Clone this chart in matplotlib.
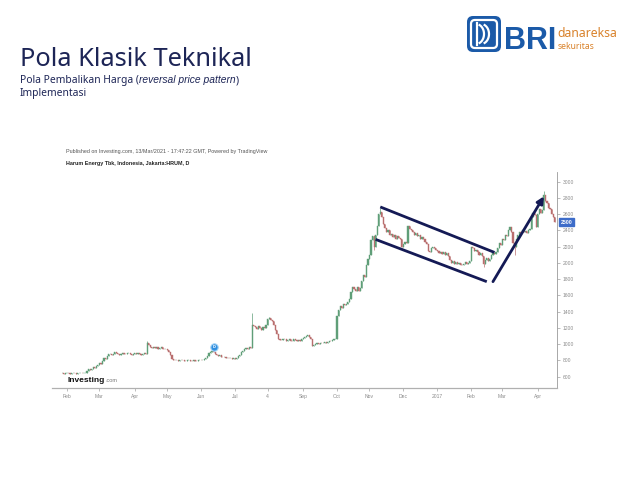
import numpy as np
import pandas as pd
import matplotlib
matplotlib.use("Agg")
import matplotlib.pyplot as plt
from matplotlib.patches import FancyBboxPatch

# daily closes HRUM (one list per month)
jan16 = [640, 632, 645]
feb16 = [650, 640, 635, 645, 650, 640, 630, 640, 645, 650, 640, 645, 650, 665, 690, 680, 700, 725, 710, 735, 750]
mar16 = [770, 755, 790, 825, 815, 860, 875, 880, 870, 885, 900, 890, 880, 870, 885, 890, 880, 875, 890, 895, 880, 870, 885]
apr16 = [890, 880, 895, 885, 870, 880, 890, 885, 1010, 985, 965, 955, 970, 950, 960, 945, 955, 960, 940, 935, 945]
may16 = [930, 910, 870, 820, 810, 800, 805, 795, 800, 810, 800, 795, 790, 800, 805, 795, 790, 800, 795, 790, 800, 805]
jun16 = [800, 810, 820, 835, 860, 890, 910, 915, 900, 880, 870, 860, 865, 845, 840, 845, 830, 835, 825, 830, 820, 825]
jul16 = [820, 830, 850, 870, 900, 920, 940, 950, 945, 960, 955, 1240, 1230, 1210, 1190, 1220, 1200, 1180, 1210, 1195, 1240]
aug16 = [1310, 1320, 1300, 1290, 1240, 1180, 1120, 1070, 1055, 1050, 1070, 1060, 1040, 1050, 1070, 1045, 1035, 1060, 1050, 1040, 1055, 1045, 1060]
sep16 = [1075, 1090, 1100, 1110, 1085, 1070, 975, 990, 1000, 1010, 1005, 1020, 1015, 1010, 1025, 1020, 1030, 1040, 1035, 1050, 1060, 1070]
oct16 = [1350, 1420, 1470, 1450, 1490, 1480, 1500, 1520, 1560, 1640, 1700, 1680, 1660, 1700, 1650, 1690, 1780, 1850, 1830, 1980, 2050]
nov16 = [2100, 2280, 2330, 2200, 2350, 2450, 2600, 2630, 2560, 2480, 2430, 2380, 2400, 2350, 2360, 2320, 2340, 2300, 2330, 2310, 2290, 2200]
dec16 = [2230, 2260, 2250, 2460, 2420, 2400, 2380, 2350, 2370, 2330, 2340, 2300, 2320, 2290, 2260, 2230, 2150, 2130, 2180, 2200, 2190, 2160]
jan17 = [2150, 2120, 2140, 2110, 2130, 2100, 2120, 2080, 2040, 2000, 2020, 1990, 2010, 1990, 2000, 1980, 1970, 1990, 2010, 1985, 2000, 2020]
feb17 = [2200, 2180, 2150, 2160, 2130, 2100, 2120, 2080, 1990, 2040, 2060, 2030, 2050, 2100, 2120, 2110, 2130, 2180, 2250, 2220]
mar17 = [2300, 2280, 2350, 2330, 2400, 2440, 2380, 2250, 2200, 2300, 2350, 2380, 2370, 2400, 2380, 2390, 2370, 2400, 2420, 2560, 2620, 2590, 2440]
apr17 = [2600, 2660, 2620, 2650, 2840, 2760, 2740, 2680, 2660, 2600, 2570, 2500]

# long wicks that stand out
wick_highs = {"2016-04-13": 1045, "2016-07-18": 1390, "2016-08-02": 1340,
              "2016-11-10": 2680, "2017-04-07": 2880}
wick_lows = {"2016-11-04": 2160, "2017-02-13": 1950, "2017-03-13": 2100}

month_labels = ["Feb", "Mar", "Apr", "May", "Jun", "Jul", "4", "Sep", "Oct",
                "Nov", "Dec", "2017", "Feb", "Mar", "Apr"]
y_ticks = list(range(600, 3001, 200))

# drawn trend lines: (date, price)
channel_top = [("2016-11-10", 2690), ("2017-02-22", 2130)]
channel_bottom = [("2016-11-07", 2290), ("2017-02-15", 1770)]
breakout_arrow = [("2017-02-21", 1770), ("2017-04-07", 2820)]
dividend_mark = ("2016-06-13", 965)
last_price = 2500

closes = (jan16 + feb16 + mar16 + apr16 + may16 + jun16 + jul16 + aug16 +
          sep16 + oct16 + nov16 + dec16 + jan17 + feb17 + mar17 + apr17)
closes = np.array(closes, dtype=float)
n = len(closes)
dates = pd.bdate_range("2016-01-27", periods=n)
opens = np.r_[closes[0], closes[:-1]]
highs = np.maximum(opens, closes)
lows = np.minimum(opens, closes)


def idx(d):
    return dates.get_loc(pd.Timestamp(d))


for d, v in wick_highs.items():
    highs[idx(d)] = v
for d, v in wick_lows.items():
    lows[idx(d)] = v

W, H = 638, 478
fig = plt.figure(figsize=(W / 100, H / 100), dpi=100)

# ---- chart ----
ax = fig.add_axes([52 / W, 1 - 388 / H, (557 - 52) / W, (388 - 172) / H])
ax.patch.set_alpha(0)
x = np.arange(n)
up = closes >= opens
cols = np.where(up, "#5f9e78", "#b96e6e")
ax.vlines(x, lows, highs, colors=cols, lw=0.5)
ax.bar(x, np.maximum(np.abs(closes - opens), 4), bottom=np.minimum(opens, closes),
       width=0.75, color=cols, edgecolor=cols, linewidth=0.3)

navy = "#141a55"
for line in (channel_top, channel_bottom):
    xs = [idx(d) for d, _ in line]
    ys = [p for _, p in line]
    ax.plot(xs, ys, color=navy, lw=2.0, solid_capstyle="butt")
(d0, p0), (d1, p1) = breakout_arrow
ax.annotate("", xy=(idx(d1), p1), xytext=(idx(d0), p0),
            arrowprops=dict(arrowstyle="-|>", color=navy, lw=2.0, mutation_scale=10,
                            shrinkA=0, shrinkB=0))

ax.scatter([idx(dividend_mark[0])], [dividend_mark[1]], s=28, color="#2f8fe0",
           edgecolor="#9fd0f5", linewidth=0.8, zorder=5)
ax.text(idx(dividend_mark[0]), dividend_mark[1], "D", fontsize=2.5, color="white",
        ha="center", va="center", fontweight="bold", zorder=6)

ax.set_xlim(-6.7, 320.5)
ax.set_ylim(461, 3120)
for s in ("top", "left"):
    ax.spines[s].set_visible(False)
ax.spines["right"].set_color("#9a9a9a")
ax.spines["right"].set_linewidth(0.6)
ax.spines["bottom"].set_color("#b0b0b0")
ax.spines["bottom"].set_linewidth(0.9)

month_pos = [i for i in range(1, n) if dates[i].month != dates[i - 1].month]
ax.set_xticks(month_pos)
ax.set_xticklabels(month_labels)
ax.yaxis.tick_right()
ax.set_yticks(y_ticks)
ax.set_yticklabels([str(v) for v in y_ticks])
ax.tick_params(axis="both", labelsize=3.6, colors="#8a8a8a", length=2, width=0.4, pad=2)
for lab in ax.get_xticklabels() + ax.get_yticklabels():
    lab.set_family("Liberation Sans")

ax.annotate(str(last_price), xy=(1.0, last_price), xycoords=("axes fraction", "data"),
            xytext=(2.5, 0), textcoords="offset points", fontsize=3.8, color="white",
            fontweight="bold", va="center", ha="left", family="Liberation Sans",
            bbox=dict(boxstyle="square,pad=0.3", fc="#3d6cc9", ec="#3d6cc9"))

# ---- slide decoration in pixel coordinates ----
deco = fig.add_axes([0, 0, 1, 1], zorder=-1)
deco.set_xlim(0, W)
deco.set_ylim(H, 0)
deco.axis("off")

deco.text(20, 66, "Pola Klasik Teknikal", fontsize=18.3, family="Noto Sans",
          color="#1d2556", va="baseline")

fig.canvas.draw()
r = fig.canvas.get_renderer()
parts = [("Pola Pembalikan Harga (", "Noto Sans", "normal"),
         ("reversal price pattern", "Liberation Sans", "italic"),
         (")", "Noto Sans", "normal")]
px = 20
for s, fam, sty in parts:
    t = deco.text(px, 83, s, fontsize=7.4, family=fam, style=sty, color="#1d2556",
                  va="baseline")
    bb = t.get_window_extent(renderer=r)
    px += bb.width
deco.text(20, 95.5, "Implementasi", fontsize=7.4, family="Noto Sans", color="#1d2556",
          va="baseline")

deco.text(66, 153, "Published on Investing.com, 13/Mar/2021 - 17:47:22 GMT, Powered by TradingView",
          fontsize=3.9, family="Liberation Sans", color="#555555", va="baseline")
deco.text(66, 165, "Harum Energy Tbk, Indonesia, Jakarta:HRUM, D", fontsize=3.9,
          family="Liberation Sans", fontweight="bold", color="#222222", va="baseline")

t = deco.text(68, 382, "Investing", fontsize=6, family="Liberation Sans", fontweight="bold",
              color="#111111", va="baseline", zorder=3)
bb = t.get_window_extent(renderer=r)
deco.text(68 + bb.width, 382, ".com", fontsize=4, family="Liberation Sans",
          color="#777777", va="baseline")

# BRI danareksa logo
blue = "#1b5aa8"
deco.add_patch(FancyBboxPatch((467, 16), 34, 36, boxstyle="round,pad=0,rounding_size=6",
                              fc=blue, ec="none"))
deco.add_patch(FancyBboxPatch((471, 20), 26, 28, boxstyle="round,pad=0,rounding_size=4",
                              fc="none", ec="white", lw=1.6))
deco.plot([477, 477], [23, 45], color="white", lw=1.6)
tt = np.linspace(-1.1, 1.1, 30)
deco.plot(476 + 8 * np.cos(tt), 34 + 10 * np.sin(tt), color="white", lw=1.6)
deco.plot(481 + 8 * np.cos(tt), 34 + 10 * np.sin(tt), color="white", lw=1.6)
deco.text(504, 48.5, "BRI", fontsize=22, family="Liberation Sans", fontweight="bold",
          color=blue, va="baseline")
deco.text(557, 37, "danareksa", fontsize=8.8, family="Noto Sans", color="#d9822b",
          va="baseline")
deco.text(558, 49, "sekuritas", fontsize=6.2, family="Noto Sans", color="#d9822b",
          va="baseline")

fig.savefig("out.png", dpi=100)
